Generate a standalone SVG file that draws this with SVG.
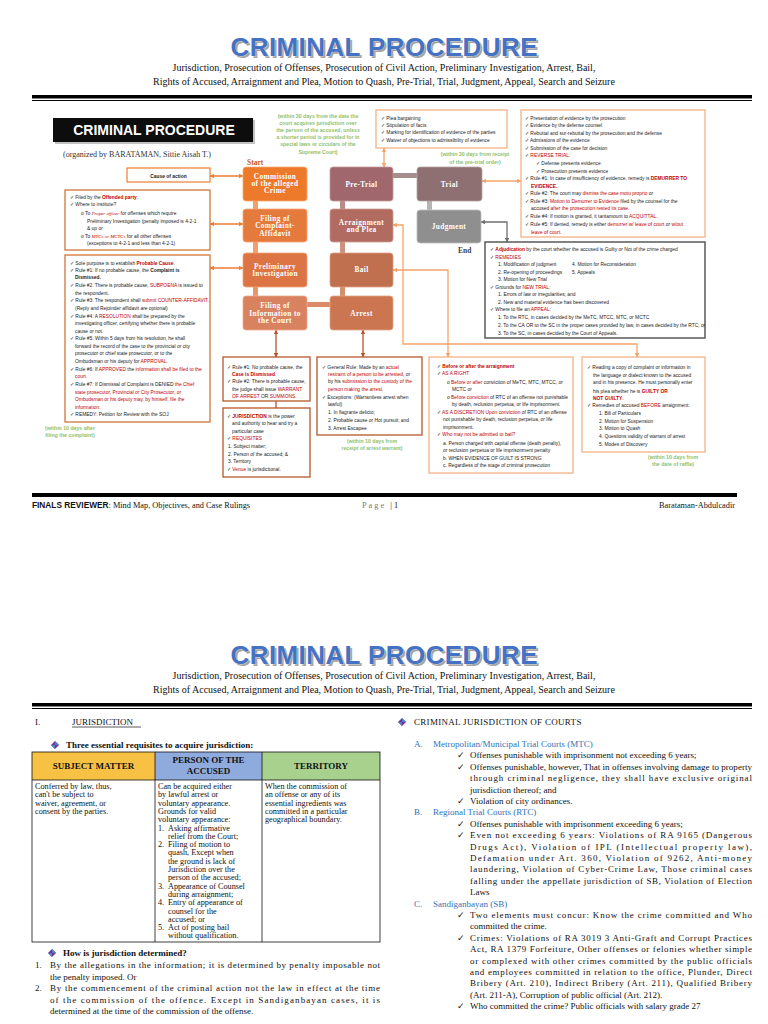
<svg xmlns="http://www.w3.org/2000/svg" width="768" height="1024" viewBox="0 0 768 1024">
<defs>
<style>
.ttl{font-family:"Liberation Sans",Arial,sans-serif;font-weight:bold;font-size:26px;text-anchor:middle}
.sub{font-family:"Liberation Serif","Times New Roman",serif;font-size:10px;fill:#111;text-anchor:middle}
.nd{font-family:"Liberation Serif","Times New Roman",serif;font-weight:bold;font-size:7.3px;fill:#fff;text-anchor:middle;letter-spacing:0.4px}
.s{font-family:"Liberation Sans",Arial,sans-serif;font-size:4.9px;fill:#1a1a1a}
.r{fill:#C00000}
.b{font-weight:bold}
.i{font-family:"Liberation Serif",serif;font-style:italic}
.g{font-family:"Liberation Sans",Arial,sans-serif;font-weight:bold;font-size:5.2px;fill:#8FBF6A;text-anchor:middle}
.bd{font-family:"Liberation Serif","Times New Roman",serif;font-size:9px;fill:#111}
.tb{font-family:"Liberation Serif","Times New Roman",serif;font-size:8.2px;fill:#111}
.th{font-family:"Liberation Serif","Times New Roman",serif;font-size:9px;font-weight:bold;fill:#111;text-anchor:middle}
.blue{fill:#2E74B5}
.bx1{fill:#fff;stroke:#D2763A;stroke-width:1.3}
.bxa{fill:#fff;stroke:#B5562A;stroke-width:1.3}
.bx2{fill:#fff;stroke:#F4B183;stroke-width:1.3}
.bx3{fill:#fff;stroke:#595959;stroke-width:1.5}
.cn{fill:none;stroke-width:1.3}
</style>
<marker id="ao" viewBox="0 0 6 6" refX="5.5" refY="3" markerWidth="4.5" markerHeight="4.5" orient="auto-start-reverse" markerUnits="userSpaceOnUse"><path d="M0,0 L6,3 L0,6 z" fill="#ED7D31"/></marker>
<marker id="ab" viewBox="0 0 6 6" refX="5.5" refY="3" markerWidth="4.5" markerHeight="4.5" orient="auto-start-reverse" markerUnits="userSpaceOnUse"><path d="M0,0 L6,3 L0,6 z" fill="#B5562A"/></marker>
<marker id="al" viewBox="0 0 6 6" refX="5.5" refY="3" markerWidth="4.5" markerHeight="4.5" orient="auto-start-reverse" markerUnits="userSpaceOnUse"><path d="M0,0 L6,3 L0,6 z" fill="#F4A46A"/></marker>
<marker id="ag" viewBox="0 0 6 6" refX="5.5" refY="3" markerWidth="4.5" markerHeight="4.5" orient="auto-start-reverse" markerUnits="userSpaceOnUse"><path d="M0,0 L6,3 L0,6 z" fill="#6F6F6F"/></marker>
<g id="icon"><polygon points="0,-4 4,0 0,4 -4,0" fill="#7030A0"/><polygon points="0,-4 4,0 0,0" fill="#4F81BD"/><polygon points="0,4 -4,0 0,0" fill="#4F81BD"/></g>
</defs>
<rect width="768" height="1024" fill="#fff"/>

<!-- PAGE 1 HEADER -->
<g id="page1-header">
<text class="ttl" x="386" y="58" fill="#A5A5A5" textLength="307">CRIMINAL PROCEDURE</text>
<text class="ttl" x="384" y="56" fill="#4472C4" stroke="#fff" stroke-width="0.5" paint-order="stroke" textLength="307">CRIMINAL PROCEDURE</text>
<text class="sub" x="384" y="71">Jurisdiction, Prosecution of Offenses, Prosecution of Civil Action, Preliminary Investigation, Arrest, Bail,</text>
<text class="sub" x="384" y="85">Rights of Accused, Arraignment and Plea, Motion to Quash, Pre-Trial, Trial, Judgment, Appeal, Search and Seizure</text>
<rect x="32" y="95" width="720" height="3.5" fill="#000"/>
<rect x="32" y="100" width="720" height="1" fill="#000"/>
</g>

<g id="header-box">
<rect x="55" y="120" width="200" height="24" fill="#9a9a9a" opacity="0.6"/>
<rect x="53" y="118" width="200" height="24" fill="#0d0d0d"/>
<text x="154" y="135" font-family="Liberation Sans,Arial,sans-serif" font-weight="bold" font-size="14" fill="#fff" text-anchor="middle">CRIMINAL PROCEDURE</text>
<text x="63" y="157" font-family="Liberation Serif,serif" font-size="8" fill="#333">(organized by BARATAMAN, Sittie Aisah T.)</text>
</g>

<g id="note-30days">
<text class="g"><tspan x="318" y="117.8">(within 30 days from the date the</tspan><tspan x="318" y="124.5">court acquires jurisdiction over</tspan><tspan x="318" y="132">the person of the accused, unless</tspan><tspan x="318" y="139.3">a shorter period is provided for in</tspan><tspan x="318" y="146.3">special laws or circulars of the</tspan><tspan x="318" y="153.7">Supreme Court)</tspan></text>
</g>

<!-- CONNECTORS -->
<g id="connectors">
<rect x="253" y="200" width="5" height="10" fill="#F0A06A"/>
<rect x="253" y="241" width="5" height="13" fill="#F0A06A"/>
<rect x="253" y="286" width="5" height="11" fill="#E8966A"/>
<rect x="306" y="302" width="25" height="5" fill="#DC8A68"/>
<rect x="340" y="200" width="5" height="10" fill="#B98C8C"/>
<rect x="340" y="241" width="5" height="13" fill="#C89480"/>
<rect x="340" y="286" width="5" height="11" fill="#D09070"/>
<rect x="392" y="173" width="26" height="5" fill="#A48E8E"/>
<rect x="427" y="200" width="5" height="11" fill="#B5B5B5"/>
<path class="cn" stroke="#ED7D31" d="M210,176 H243" marker-start="url(#ao)" marker-end="url(#ao)"/>
<path class="cn" stroke="#ED7D31" d="M210,224 H243" marker-start="url(#ao)" marker-end="url(#ao)"/>
<path class="cn" stroke="#ED7D31" d="M210,268 H243" marker-start="url(#ao)" marker-end="url(#ao)"/>
<path class="cn" stroke="#B5562A" d="M276,330 V357" marker-start="url(#ab)" marker-end="url(#ab)"/>
<path class="cn" stroke="#B5562A" d="M276,401 V408"/>
<path class="cn" stroke="#B5562A" d="M363,330 V357" marker-start="url(#ab)" marker-end="url(#ab)"/>
<path class="cn" stroke="#F4A46A" d="M384,148 V167" marker-start="url(#al)" marker-end="url(#al)"/>
<path class="cn" stroke="#F4A46A" d="M482,181 H521" marker-start="url(#al)" marker-end="url(#al)"/>
<path class="cn" stroke="#6F6F6F" d="M481,222 H507 V242" marker-start="url(#ag)" marker-end="url(#ag)"/>
<path class="cn" stroke="#F4A46A" d="M393,225 H403 V344 H637 V357" marker-start="url(#al)" marker-end="url(#al)"/>
<path class="cn" stroke="#F4A46A" d="M393,270 H448 V357" marker-start="url(#al)" marker-end="url(#al)"/>
</g>

<!-- FLOW NODES -->
<g id="n-start"><text x="247" y="164.5" font-family="Liberation Serif,serif" font-weight="bold" font-size="7.5" fill="#C55A11">Start</text></g>
<g id="n-commission"><rect x="243" y="167" width="64" height="34" rx="3" fill="#EC7A2A" stroke="#F7A870" stroke-width="0.8"/><text class="nd"><tspan x="275" y="178.6">Commission</tspan><tspan x="275" y="186">of the alleged</tspan><tspan x="275" y="193.4">Crime</tspan></text></g>
<g id="n-complaint"><rect x="243" y="209" width="64" height="33" rx="3" fill="#E47A3C" stroke="#F5A676" stroke-width="0.8"/><text class="nd"><tspan x="275" y="220.8">Filing of</tspan><tspan x="275" y="228.2">Complaint-</tspan><tspan x="275" y="235.6">Affidavit</tspan></text></g>
<g id="n-prelim"><rect x="243" y="253" width="64" height="34" rx="3" fill="#DC7443" stroke="#F0A27A" stroke-width="0.8"/><text class="nd"><tspan x="275" y="268.8">Preliminary</tspan><tspan x="275" y="276.4">Investigation</tspan></text></g>
<g id="n-information"><rect x="243" y="296" width="64" height="34" rx="3" fill="#D8825F" stroke="#EDAA8C" stroke-width="0.8"/><text class="nd"><tspan x="275" y="308.3">Filing of</tspan><tspan x="275" y="315.7">Information to</tspan><tspan x="275" y="323.1">the Court</tspan></text></g>
<g id="n-pretrial"><rect x="330" y="167" width="63" height="34" rx="3" fill="#A0686C" stroke="#C49A9C" stroke-width="0.8"/><text class="nd" x="361.5" y="186.6">Pre-Trial</text></g>
<g id="n-arraignment"><rect x="330" y="209" width="63" height="33" rx="3" fill="#B16B60" stroke="#D09C92" stroke-width="0.8"/><text class="nd"><tspan x="361.5" y="224.6">Arraignment</tspan><tspan x="361.5" y="232.4">and Plea</tspan></text></g>
<g id="n-bail"><rect x="330" y="253" width="63" height="34" rx="3" fill="#C0704F" stroke="#DEA084" stroke-width="0.8"/><text class="nd" x="361.5" y="272.4">Bail</text></g>
<g id="n-arrest"><rect x="330" y="296" width="63" height="34" rx="3" fill="#CB7651" stroke="#E6A586" stroke-width="0.8"/><text class="nd" x="361.5" y="315.5">Arrest</text></g>
<g id="n-trial"><rect x="417" y="167" width="65" height="34" rx="3" fill="#8E7072" stroke="#B8A2A3" stroke-width="0.8"/><text class="nd" x="449.5" y="186.6">Trial</text></g>
<g id="n-judgment"><rect x="417" y="210" width="64" height="33" rx="3" fill="#8F8F8F" stroke="#BEBEBE" stroke-width="0.8"/><text class="nd" x="449" y="229.2">Judgment</text></g>
<g id="n-end"><text x="458" y="252.5" font-family="Liberation Serif,serif" font-weight="bold" font-size="7.5" fill="#404040">End</text></g>

<!-- ANNOTATION BOXES -->
<g id="b-cause"><rect x="127" y="168" width="83" height="14" fill="#fff" stroke="#ED7D31" stroke-width="1.2"/><text class="s b" x="168.5" y="177.6" text-anchor="middle" font-size="5.2">Cause of action</text></g>

<g id="b-offended"><rect class="bx1" x="65" y="190" width="145" height="60"/>
<text class="s">
<tspan x="70" y="199.1">✓ Filed by the <tspan class="r b">Offended party</tspan>.</tspan>
<tspan x="70" y="205.8">✓ Where to institute?</tspan>
<tspan x="81" y="214.5">o  To <tspan class="r i">Proper officer</tspan> for offenses which require</tspan>
<tspan x="87" y="222.5">Preliminary Investigation (penalty imposed is 4-2-1</tspan>
<tspan x="87" y="230.1">&amp; up or</tspan>
<tspan x="81" y="237.8">o  To <tspan class="r i">MTCs or MCTCs</tspan> for all other offenses</tspan>
<tspan x="87" y="245.1">(exceptions to 4-2-1 and less than 4-2-1)</tspan>
</text></g>

<g id="b-prelim"><rect class="bx1" x="65" y="255" width="145" height="167"/>
<text class="s">
<tspan x="70" y="264.5">✓ Sole purpose is to establish <tspan class="r b">Probable Cause</tspan>.</tspan>
<tspan x="70" y="271.8">✓ Rule #1: If no probable cause, the <tspan class="b">Complaint is</tspan></tspan>
<tspan x="75" y="279.1" class="b">Dismissed.</tspan>
<tspan x="70" y="286.8">✓ Rule #2: There is probable cause, <tspan class="r">SUBPOENA</tspan> is issued to</tspan>
<tspan x="75" y="294.5">the respondent.</tspan>
<tspan x="70" y="301.8">✓ Rule #3: The respondent shall <tspan class="r">submit COUNTER-AFFIDAVIT.</tspan></tspan>
<tspan x="75" y="309.5">(Reply and Rejoinder affidavit are optional)</tspan>
<tspan x="70" y="317.5">✓ Rule #4: A <tspan class="r">RESOLUTION</tspan> shall be prepared by the</tspan>
<tspan x="75" y="325.1">investigating officer, certifying whether there is probable</tspan>
<tspan x="75" y="332.5">cause or not.</tspan>
<tspan x="70" y="340.1">✓ Rule #5: Within 5 days from his resolution, he shall</tspan>
<tspan x="75" y="347.8">forward the record of the case to the provincial or city</tspan>
<tspan x="75" y="355.1">prosecutor or chief state prosecutor, or to the</tspan>
<tspan x="75" y="362.8">Ombudsman or his deputy for <tspan class="r">APPROVAL.</tspan></tspan>
<tspan x="70" y="370.8">✓ Rule #6: If <tspan class="r">APPROVED</tspan> the <tspan class="r">information shall be filed to the</tspan></tspan>
<tspan x="75" y="378.1" class="r">court.</tspan>
<tspan x="70" y="385.8">✓ Rule #7: If Dismissal of Complaint is DENIED <tspan class="r">the Chief</tspan></tspan>
<tspan x="75" y="393.5" class="r">state prosecutor, Provincial or City Prosecutor, or</tspan>
<tspan x="75" y="401.1" class="r">Ombudsman or his deputy may, by himself, file the</tspan>
<tspan x="75" y="408.8" class="r">information.</tspan>
<tspan x="70" y="416.1">✓ REMEDY: Petition for Review with the SOJ</tspan>
</text>
<text class="g" text-anchor="start" font-size="5.4"><tspan x="70" y="430.3">(within 10 days after</tspan><tspan x="70" y="437.3">filing the complaint)</tspan></text>
</g>

<g id="b-dismissed"><rect class="bxa" x="223" y="357" width="87" height="44"/>
<text class="s">
<tspan x="227" y="368.5">✓ Rule #1: No probable cause, the</tspan>
<tspan x="232" y="375.8" class="r b">Case is Dismissed</tspan><tspan>.</tspan>
<tspan x="227" y="383.1">✓ Rule #2: There is probable cause,</tspan>
<tspan x="232" y="390.5">the judge shall issue <tspan class="r">WARRANT</tspan></tspan>
<tspan x="232" y="398" class="r">OF ARREST <tspan fill="#1a1a1a">OR</tspan> SUMMONS.</tspan>
</text></g>

<g id="b-jurisdiction"><rect class="bxa" x="223" y="408" width="87" height="69"/>
<text class="s">
<tspan x="227" y="417.5">✓ <tspan class="r b">JURISDICTION</tspan> is the power</tspan>
<tspan x="232" y="425.1">and authority to hear and try a</tspan>
<tspan x="232" y="432.8">particular case</tspan>
<tspan x="227" y="440.1">✓ <tspan class="r">REQUISITES</tspan></tspan>
<tspan x="228" y="447.8">1.  Subject matter;</tspan>
<tspan x="228" y="455.5">2.  Person of the accused; &amp;</tspan>
<tspan x="228" y="462.8">3.  Territory</tspan>
<tspan x="227" y="470.8">✓ <tspan class="r">Venue</tspan> is jurisdictional.</tspan>
</text></g>

<g id="b-arrest"><rect class="bxa" x="317" y="357" width="105" height="78"/>
<text class="s">
<tspan x="322" y="368.5">✓ General Rule: Made by an <tspan class="r">actual</tspan></tspan>
<tspan x="328" y="375.8"><tspan class="r">restraint of a person to be arrested</tspan>, or</tspan>
<tspan x="328" y="383.1">by his <tspan class="r">submission to the custody of the</tspan></tspan>
<tspan x="328" y="390.5" class="r">person making the arrest.</tspan>
<tspan x="322" y="398.5">✓ Exceptions: (Warrantless arrest when</tspan>
<tspan x="328" y="406.1">lawful)</tspan>
<tspan x="328" y="414.1">1. In flagrante delicto;</tspan>
<tspan x="328" y="421.8">2. Probable cause or Hot pursuit; and</tspan>
<tspan x="328" y="429.5">3. Arrest Escapee</tspan>
</text>
<text class="g"><tspan x="372" y="442.5">(within 10 days from</tspan><tspan x="372" y="449.8">receipt of arrest warrant)</tspan></text>
</g>

<g id="b-bail"><rect class="bx2" x="429" y="357" width="144" height="116"/>
<text class="s">
<tspan x="437" y="367.5">✓ <tspan class="r b">Before or after the arraignment</tspan></tspan>
<tspan x="437" y="375.1">✓ <tspan class="r">AS A RIGHT</tspan></tspan>
<tspan x="447" y="383.5">o  <tspan class="r">Before or after</tspan> conviction of MeTC, MTC, MTCC, or</tspan>
<tspan x="452" y="390.8">MCTC or</tspan>
<tspan x="447" y="398.5">o  <tspan class="r">Before conviction</tspan> of RTC of an offense not punishable</tspan>
<tspan x="452" y="405.8">by death, reclusion perpetua, or life imprisonment.</tspan>
<tspan x="437" y="413.5">✓ <tspan class="r">AS A DISCRETION Upon conviction</tspan> of RTC of an offense</tspan>
<tspan x="443" y="420.8">not punishable by death, reclusion perpetua, or life</tspan>
<tspan x="443" y="428.5">imprisonment.</tspan>
<tspan x="437" y="436.1">✓ <tspan class="r">Who may not be admitted to bail?</tspan></tspan>
<tspan x="443" y="444.5">a. Person charged with capital offense (death penalty),</tspan>
<tspan x="443" y="451.8">or reclusion perpetua or life imprisonment penalty</tspan>
<tspan x="443" y="459.5">b. WHEN EVIDENCE OF GUILT IS STRONG</tspan>
<tspan x="443" y="466.8">c. Regardless of the stage of criminal prosecution</tspan>
</text></g>

<g id="b-arraignment"><rect class="bx2" x="582" y="357" width="123" height="95"/>
<text class="s">
<tspan x="587" y="369.1">✓ Reading a copy of complaint or information in</tspan>
<tspan x="593" y="376.8">the language or dialect known to the accused</tspan>
<tspan x="593" y="384.1">and in his presence. He must personally enter</tspan>
<tspan x="593" y="392.5">his plea whether he is <tspan class="r b">GUILTY OR</tspan></tspan>
<tspan x="593" y="399.5"><tspan class="r b">NOT GUILTY</tspan>.</tspan>
<tspan x="587" y="406.8">✓ Remedies of accused <tspan class="r">BEFORE</tspan> arraignment:</tspan>
<tspan x="599" y="414.5">1.  Bill of Particulars</tspan>
<tspan x="599" y="422.5">2.  Motion for Suspension</tspan>
<tspan x="599" y="430.1">3.  Motion to Quash</tspan>
<tspan x="599" y="437.8">4.  Questions validity of warrant of arrest</tspan>
<tspan x="599" y="445.8">5.  Modes of Discovery</tspan>
</text>
<text class="g"><tspan x="673" y="459">(within 10 days from</tspan><tspan x="673" y="466">the date of raffle)</tspan></text>
</g>

<g id="b-pretrial"><rect class="bx2" x="376" y="110" width="131" height="38"/>
<text class="s">
<tspan x="381" y="119.5">✓ Plea bargaining</tspan>
<tspan x="381" y="126.8">✓ Stipulation of facts</tspan>
<tspan x="381" y="134.1">✓ Marking for identification of evidence of the parties</tspan>
<tspan x="381" y="141.8">✓ Waiver of objections to admissibility of evidence</tspan>
</text>
<text class="g"><tspan x="475" y="156.3">(within 30 days from receipt</tspan><tspan x="475" y="163.7">of the pre-trial order)</tspan></text>
</g>

<g id="b-trial"><rect class="bx2" x="521" y="110" width="184" height="127"/>
<text class="s">
<tspan x="525" y="119.5">✓ Presentation of evidence by the prosecution</tspan>
<tspan x="525" y="127">✓ Evidence by the defense counsel</tspan>
<tspan x="525" y="134.6">✓ Rebuttal and sur-rebuttal by the prosecution and the defense</tspan>
<tspan x="525" y="142.2">✓ Admissions of the evidence</tspan>
<tspan x="525" y="149.8">✓ Submission of the case for decision</tspan>
<tspan x="525" y="157.4">✓ <tspan class="r">REVERSE TRIAL</tspan>:</tspan>
<tspan x="536" y="165">✓ Defense presents evidence</tspan>
<tspan x="536" y="172.6">✓ Prosecution presents evidence</tspan>
<tspan x="525" y="180.2">✓ Rule #1: In case of insufficiency of evidence, remedy is <tspan class="r b">DEMURRER TO</tspan></tspan>
<tspan x="531" y="187.8" class="r b">EVIDENCE.</tspan>
<tspan x="525" y="195.2">✓ Rule #2: The court may <tspan class="r">dismiss the case motu proprio</tspan> or</tspan>
<tspan x="525" y="202.8">✓ Rule #3: <tspan class="r">Motion to Demurrer to Evidence</tspan> filed by the counsel for the</tspan>
<tspan x="531" y="210.2">accused <tspan class="r">after the prosecution rested its case.</tspan></tspan>
<tspan x="525" y="218">✓ Rule #4: If motion is granted, it tantamount to <tspan class="r">ACQUITTAL</tspan>.</tspan>
<tspan x="525" y="225.8">✓ Rule #5: If denied, remedy is either <tspan class="r">demurrer w/ leave of court</tspan> or <tspan class="r">w/out</tspan></tspan>
<tspan x="531" y="233.5" class="r">leave of court.</tspan>
</text></g>

<g id="b-judgment"><rect class="bx3" x="485" y="242" width="220" height="96"/>
<text class="s">
<tspan x="490" y="251.1">✓ <tspan class="r b">Adjudication</tspan> by the court whether the accused is Guilty or Not of the crime charged</tspan>
<tspan x="490" y="258.5">✓ <tspan class="r">REMEDIES</tspan></tspan>
<tspan x="498" y="265.8">1.   Modification of judgment</tspan><tspan x="572" y="265.8">4. Motion for Reconsideration</tspan>
<tspan x="498" y="273.5">2.   Re-opening of proceedings</tspan><tspan x="572" y="273.5">5. Appeals</tspan>
<tspan x="498" y="280.8">3.   Motion for New Trial</tspan>
<tspan x="490" y="288.5">✓ Grounds for <tspan class="r">NEW TRIAL</tspan>:</tspan>
<tspan x="498" y="296.1">1.   Errors of law or irregularities; and</tspan>
<tspan x="498" y="303.5">2.   New and material evidence has been discovered</tspan>
<tspan x="490" y="311.1">✓ Where to file an <tspan class="r">APPEAL</tspan>:</tspan>
<tspan x="498" y="319.1">1.   To the RTC, in cases decided by the MeTC, MTCC, MTC, or MCTC</tspan>
<tspan x="498" y="326.8">2.   To the CA OR to the SC in the proper cases provided by law, in cases decided by the RTC; or</tspan>
<tspan x="498" y="334.5">3.   To the SC, in cases decided by the Court of Appeals.</tspan>
</text></g>

<!-- PAGE 1 FOOTER -->
<g id="page1-footer">
<rect x="32" y="493" width="705" height="4" fill="#000"/>
<text x="32" y="508" font-size="8.3" fill="#111"><tspan font-family="Liberation Sans,Arial,sans-serif" font-weight="bold">FINALS REVIEWER</tspan><tspan font-family="Liberation Serif,serif">: Mind Map, Objectives, and Case Rulings</tspan></text>
<text x="362" y="508" font-family="Liberation Serif,serif" font-size="8.3" fill="#777" letter-spacing="2">Page <tspan fill="#111" letter-spacing="0">| 1</tspan></text>
<text x="735" y="508" font-family="Liberation Serif,serif" font-size="8.3" fill="#111" text-anchor="end">Barataman-Abdulcadir</text>
</g>

<!-- PAGE 2 HEADER -->
<g id="page2-header">
<text class="ttl" x="386" y="666" fill="#A5A5A5" textLength="307">CRIMINAL PROCEDURE</text>
<text class="ttl" x="384" y="664" fill="#4472C4" stroke="#fff" stroke-width="0.5" paint-order="stroke" textLength="307">CRIMINAL PROCEDURE</text>
<text class="sub" x="384" y="679">Jurisdiction, Prosecution of Offenses, Prosecution of Civil Action, Preliminary Investigation, Arrest, Bail,</text>
<text class="sub" x="384" y="693">Rights of Accused, Arraignment and Plea, Motion to Quash, Pre-Trial, Trial, Judgment, Appeal, Search and Seizure</text>
<rect x="32" y="703" width="720" height="3.5" fill="#000"/>
<rect x="32" y="708" width="720" height="1" fill="#000"/>
</g>

<!-- PAGE 2 LEFT COLUMN -->
<g id="sec-jurisdiction">
<text class="bd" x="35" y="725">I.</text>
<text class="bd" x="72" y="725">JURISDICTION</text>
<line x1="72" y1="727" x2="141" y2="727" stroke="#111" stroke-width="0.7"/>
<use href="#icon" x="55" y="745"/>
<text class="bd b" x="66" y="748">Three essential requisites to acquire jurisdiction:</text>
</g>

<g id="req-table">
<rect x="32" y="752" width="123" height="28" fill="#F7C244"/>
<rect x="155" y="752" width="107" height="28" fill="#8FAADC"/>
<rect x="262" y="752" width="118" height="28" fill="#A9D18E"/>
<rect x="32" y="752" width="348" height="190" fill="none" stroke="#111" stroke-width="0.8"/>
<line x1="32" y1="780" x2="380" y2="780" stroke="#111" stroke-width="0.8"/>
<line x1="155" y1="752" x2="155" y2="942" stroke="#111" stroke-width="0.8"/>
<line x1="262" y1="752" x2="262" y2="942" stroke="#111" stroke-width="0.8"/>
<text class="th" x="93.5" y="769">SUBJECT MATTER</text>
<text class="th"><tspan x="208.5" y="763">PERSON OF THE</tspan><tspan x="208.5" y="774">ACCUSED</tspan></text>
<text class="th" x="321" y="769">TERRITORY</text>
<text class="tb">
<tspan x="35" y="789">Conferred by law, thus,</tspan>
<tspan x="35" y="797.3">can't be subject to</tspan>
<tspan x="35" y="805.6">waiver, agreement, or</tspan>
<tspan x="35" y="813.9">consent by the parties.</tspan>
</text>
<text class="tb">
<tspan x="158" y="789">Can be acquired either</tspan>
<tspan x="158" y="797.3">by lawful arrest or</tspan>
<tspan x="158" y="805.6">voluntary appearance.</tspan>
<tspan x="158" y="813.9">Grounds for valid</tspan>
<tspan x="158" y="822.2">voluntary appearance:</tspan>
<tspan x="158" y="830.5">1.</tspan><tspan x="168" y="830.5">Asking affirmative</tspan>
<tspan x="168" y="838.8">relief from the Court;</tspan>
<tspan x="158" y="847.1">2.</tspan><tspan x="168" y="847.1">Filing of motion to</tspan>
<tspan x="168" y="855.4">quash, Except when</tspan>
<tspan x="168" y="863.7">the ground is lack of</tspan>
<tspan x="168" y="872">Jurisdiction over the</tspan>
<tspan x="168" y="880.3">person of the accused;</tspan>
<tspan x="158" y="888.6">3.</tspan><tspan x="168" y="888.6">Appearance of Counsel</tspan>
<tspan x="168" y="896.9">during arraignment;</tspan>
<tspan x="158" y="905.2">4.</tspan><tspan x="168" y="905.2">Entry of appearance of</tspan>
<tspan x="168" y="913.5">counsel for the</tspan>
<tspan x="168" y="921.8">accused; or</tspan>
<tspan x="158" y="930.1">5.</tspan><tspan x="168" y="930.1">Act of posting bail</tspan>
<tspan x="168" y="938.4">without qualification.</tspan>
</text>
<text class="tb">
<tspan x="265" y="789">When the commission of</tspan>
<tspan x="265" y="797.3">an offense or any of its</tspan>
<tspan x="265" y="805.6">essential ingredients was</tspan>
<tspan x="265" y="813.9">committed in a particular</tspan>
<tspan x="265" y="822.2">geographical boundary.</tspan>
</text>
</g>

<g id="sec-determined">
<use href="#icon" x="52" y="953"/>
<text class="bd b" x="63" y="956">How is jurisdiction determined?</text>
<text class="bd">
<tspan x="35" y="968">1.</tspan><tspan x="50" y="968" textLength="330">By the allegations in the information; it is determined by penalty imposable not</tspan>
<tspan x="50" y="979.5">the penalty imposed. Or</tspan>
<tspan x="35" y="991">2.</tspan><tspan x="50" y="991" textLength="330">By the commencement of the criminal action not the law in effect at the time</tspan>
<tspan x="50" y="1002.5" textLength="330">of the commission of the offence. Except in Sandiganbayan cases, it is</tspan>
<tspan x="50" y="1014">determined at the time of the commission of the offense.</tspan>
</text>
</g>

<!-- PAGE 2 RIGHT COLUMN -->
<g id="sec-courts">
<use href="#icon" x="402" y="722"/>
<text class="bd" x="414" y="725" letter-spacing="0.3">CRIMINAL JURISDICTION OF COURTS</text>
<text class="bd">
<tspan x="414" y="747" class="blue">A.</tspan><tspan x="433" y="747" class="blue">Metropolitan/Municipal Trial Courts (MTC)</tspan>
<tspan x="457" y="758.4">✓</tspan><tspan x="470" y="758.4">Offenses punishable with imprisonment not exceeding 6 years;</tspan>
<tspan x="457" y="769.8">✓</tspan><tspan x="470" y="769.8" textLength="282">Offenses punishable, however, That in offenses involving damage to property</tspan>
<tspan x="470" y="781.2" textLength="282">through criminal negligence, they shall have exclusive original</tspan>
<tspan x="470" y="792.6">jurisdiction thereof; and</tspan>
<tspan x="457" y="804">✓</tspan><tspan x="470" y="804">Violation of city ordinances.</tspan>
<tspan x="414" y="815.4" class="blue">B.</tspan><tspan x="433" y="815.4" class="blue">Regional Trial Courts (RTC)</tspan>
<tspan x="457" y="826.8">✓</tspan><tspan x="470" y="826.8">Offenses punishable with imprisonment exceeding 6 years;</tspan>
<tspan x="457" y="838.2">✓</tspan><tspan x="470" y="838.2" textLength="282">Even not exceeding 6 years: Violations of RA 9165 (Dangerous</tspan>
<tspan x="470" y="849.6" textLength="282">Drugs Act), Violation of IPL (Intellectual property law),</tspan>
<tspan x="470" y="861" textLength="282">Defamation under Art. 360, Violation of 9262, Anti-money</tspan>
<tspan x="470" y="872.4" textLength="282">laundering, Violation of Cyber-Crime Law, Those criminal cases</tspan>
<tspan x="470" y="883.8" textLength="282">falling under the appellate jurisdiction of SB, Violation of Election</tspan>
<tspan x="470" y="895.2">Laws</tspan>
<tspan x="414" y="906.6" class="blue">C.</tspan><tspan x="433" y="906.6" class="blue">Sandiganbayan (SB)</tspan>
<tspan x="457" y="918">✓</tspan><tspan x="470" y="918" textLength="282">Two elements must concur: Know the crime committed and Who</tspan>
<tspan x="470" y="929.4">committed the crime.</tspan>
<tspan x="457" y="940.8">✓</tspan><tspan x="470" y="940.8" textLength="282">Crimes: Violations of RA 3019 3 Anti-Graft and Corrupt Practices</tspan>
<tspan x="470" y="952.2" textLength="282">Act, RA 1379 Forfeiture, Other offenses or felonies whether simple</tspan>
<tspan x="470" y="963.6" textLength="282">or complexed with other crimes committed by the public officials</tspan>
<tspan x="470" y="975" textLength="282">and employees committed in relation to the office, Plunder, Direct</tspan>
<tspan x="470" y="986.4" textLength="282">Bribery (Art. 210), Indirect Bribery (Art. 211), Qualified Bribery</tspan>
<tspan x="470" y="997.8">(Art. 211-A), Corruption of public official (Art. 212).</tspan>
<tspan x="457" y="1009.2">✓</tspan><tspan x="470" y="1009.2">Who committed the crime? Public officials with salary grade 27</tspan>
</text>
</g>
</svg>
